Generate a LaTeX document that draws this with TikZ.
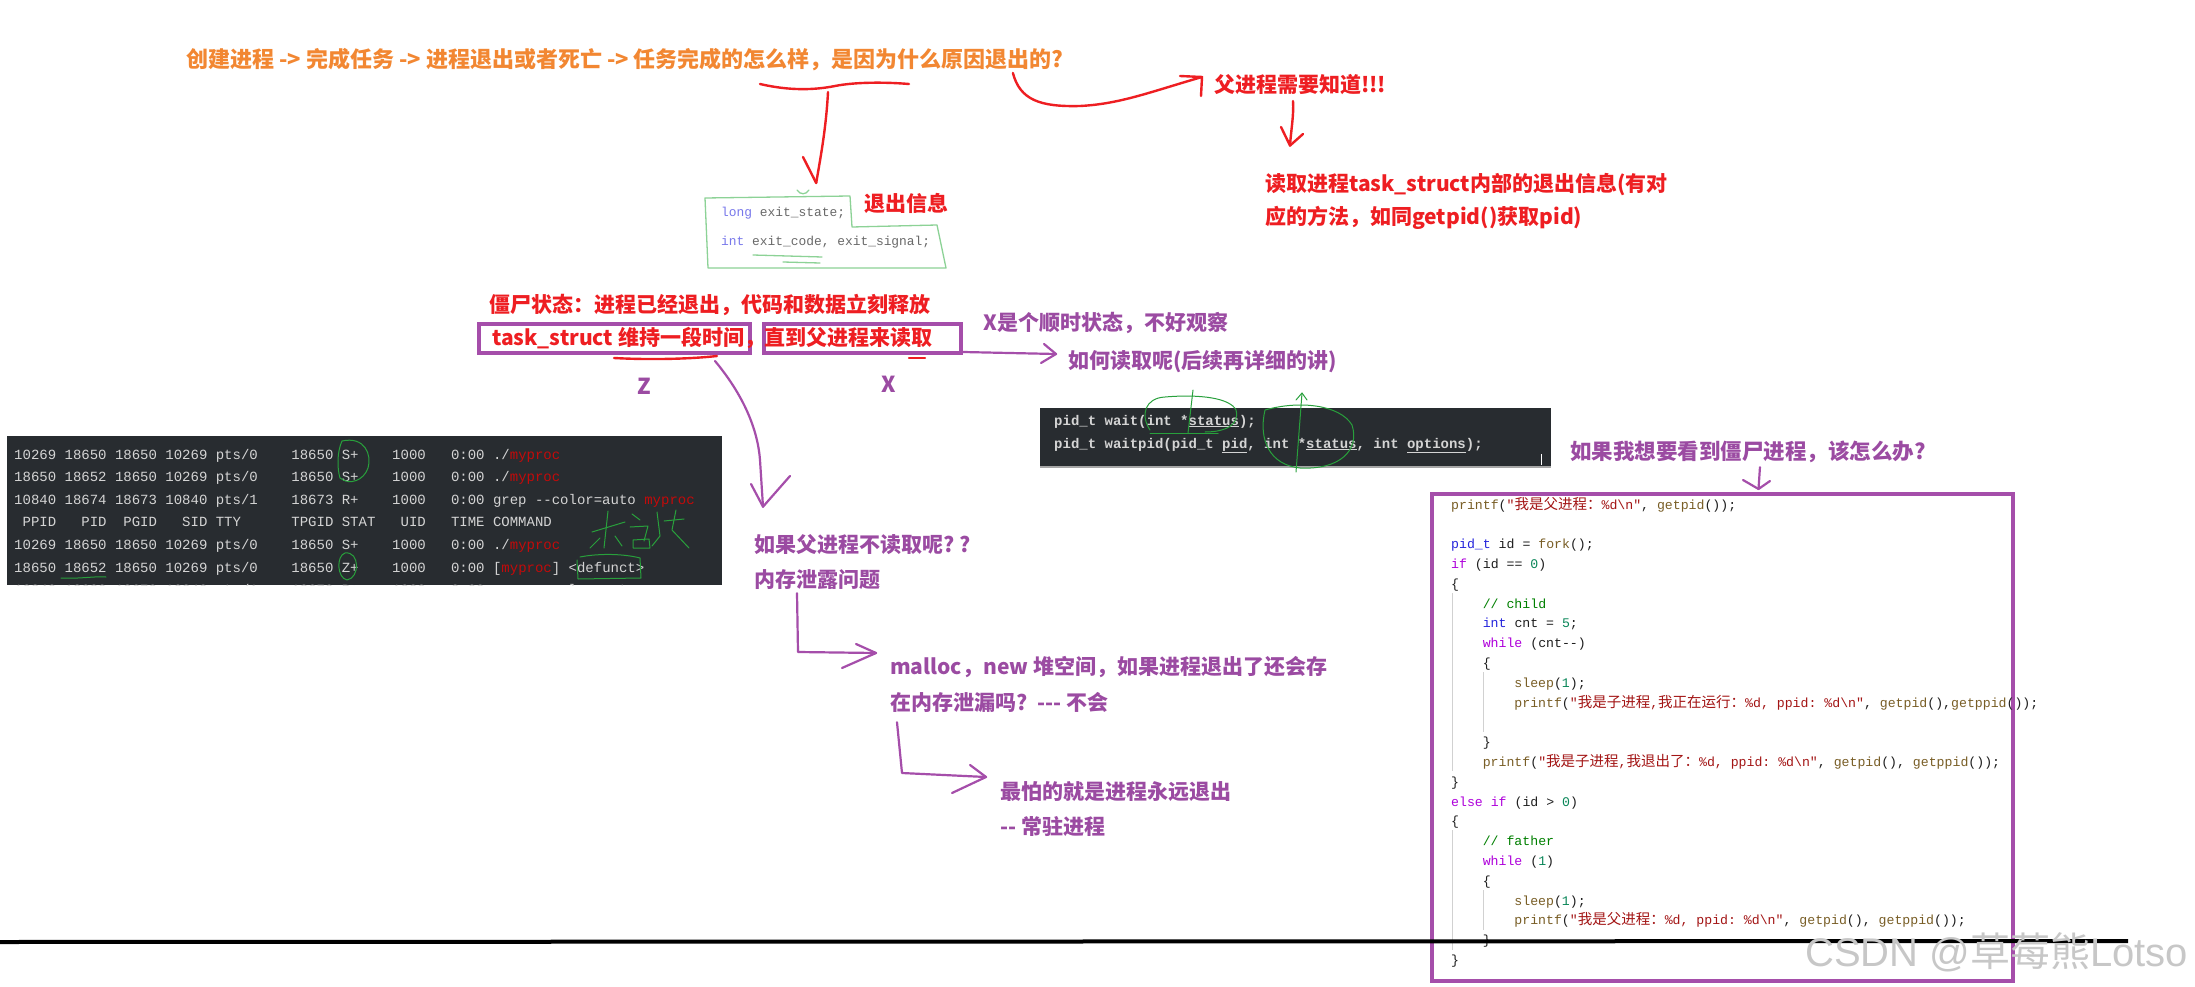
\documentclass[tikz,border=0pt]{standalone}
\usepackage{fontspec}
\setmainfont{Noto Sans CJK SC}
\setmonofont{Liberation Mono}
\newfontfamily\zhfont{Noto Sans CJK SC}
\newfontfamily\wmfont{Liberation Sans}
\usetikzlibrary{arrows.meta,calc}
\frenchspacing
\definecolor{tred}{RGB}{238,30,34}
\definecolor{torange}{RGB}{242,135,50}
\definecolor{tpurple}{RGB}{155,75,162}
\definecolor{bpurple}{RGB}{165,78,170}
\definecolor{hgreen}{RGB}{40,160,60}
\definecolor{lgreen}{RGB}{140,210,150}
\definecolor{termbg}{RGB}{40,44,48}
\definecolor{termfg}{RGB}{212,212,212}
\definecolor{termred}{RGB}{195,10,10}
\definecolor{cdfn}{RGB}{121,94,38}
\definecolor{cdst}{RGB}{163,21,21}
\definecolor{cdkw}{RGB}{175,0,219}
\definecolor{cdty}{RGB}{38,38,220}
\definecolor{cdnu}{RGB}{9,134,88}
\definecolor{cdcm}{RGB}{0,128,0}
\definecolor{cdid}{RGB}{31,31,31}
\definecolor{exkw}{RGB}{120,120,235}
\definecolor{exid}{RGB}{105,105,105}
\newcommand\cFn[1]{\textcolor{cdfn}{#1}}
\newcommand\cSt[1]{\textcolor{cdst}{#1}}
\newcommand\cKw[1]{\textcolor{cdkw}{#1}}
\newcommand\cTy[1]{\textcolor{cdty}{#1}}
\newcommand\cNu[1]{\textcolor{cdnu}{#1}}
\newcommand\cCm[1]{\textcolor{cdcm}{#1}}
\newcommand\zh[1]{{\zhfont\fontsize{14.5}{16}\selectfont #1}}
\newcommand\myp{\textcolor{termred}{myproc}}
\begin{document}
\begin{tikzpicture}[x=1pt,y=-1pt,
  redtxt/.style={anchor=west,inner sep=0,text=tred,font=\bfseries\fontsize{21}{25}\selectfont},
  purtxt/.style={anchor=west,inner sep=0,text=tpurple,font=\bfseries\fontsize{21}{25}\selectfont},
  redhand/.style={draw=tred,line width=2.4pt,line cap=round,line join=round},
  purhand/.style={draw=bpurple,line width=2.2pt,line cap=round,line join=round},
  greenhand/.style={draw=hgreen,line width=1pt,line cap=round,line join=round},
  lgreenhand/.style={draw=lgreen,line width=1.3pt,line cap=round,line join=round},
  purbox/.style={draw=bpurple,line width=4pt,inner sep=0,anchor=north west},
  termline/.style={anchor=base west,inner sep=0,text=termfg,font=\ttfamily\fontsize{14}{16}\selectfont},
  waitline/.style={anchor=base west,inner sep=0,text=termfg,font=\ttfamily\bfseries\fontsize{14}{16}\selectfont},
  codeline/.style={anchor=base west,inner sep=0,text=cdid,font=\ttfamily\fontsize{13.2}{15}\selectfont},
  exline/.style={anchor=base west,inner sep=0,text=exid,font=\ttfamily\fontsize{12.9}{15}\selectfont},
  guide/.style={draw=black!18,line width=0.8pt}
]
\fill[white] (0,0) rectangle (2195,987);
\useasboundingbox (0,0) rectangle (2195,987);

% ---------- title ----------
\node[anchor=west,inner sep=0,text=torange,font=\bfseries\fontsize{22}{26}\selectfont] (title) at (186,60)
  {创建进程 -> 完成任务 -> 进程退出或者死亡 -> 任务完成的怎么样，是因为什么原因退出的?};

% ---------- exit info box ----------
\node[inner sep=0,anchor=north west,minimum width=240,minimum height=72] (exitbox) at (706,197) {};
\draw[lgreenhand] (705,198) -- (850,196) -- (852,227) -- (937,225) -- (946,268) -- (708,268) -- cycle;
\draw[lgreenhand] (797,190) .. controls (800,195) and (806,195) .. (809,190);
\draw[lgreenhand] (753,255) -- (822,257);
\draw[lgreenhand] (783,262) -- (820,263);
\node[exline] (ex1) at (721,217) {\textcolor{exkw}{long} exit\_state;};
\node[exline] (ex2) at (721,245) {\textcolor{exkw}{int} exit\_code, exit\_signal;};
\node[redtxt] (exinfo) at (864,203) {退出信息};

% red squiggle and arrow into exit box
\coordinate (sqL) at (760,84);
\coordinate (sqR) at (909,84);
\draw[redhand] (sqL) .. controls (790,91) and (815,90) .. (835,86) .. controls (855,82) and (885,82) .. (sqR);
\draw[redhand] (828,92) .. controls (826,130) and (820,160) .. ($(exitbox.north)+(-10,-14)$);
\draw[redhand] (803,157) -- ($(exitbox.north)+(-10,-14)$);

% ---------- parent needs to know ----------
\node[redtxt] (parent) at (1214,85) {父进程需要知道!!!};
\draw[redhand] ($(title.east)+(-51,13)$) .. controls (1020,100) and (1040,107) .. (1080,106)
   .. controls (1120,104) and (1150,92) .. ($(parent.west)+(-12,-8)$);
\draw[redhand] ($(parent.west)+(-34,-9)$) -- ($(parent.west)+(-12,-8)$) -- ($(parent.west)+(-13,11)$);

\node[redtxt] (read1) at (1265,185) {读取进程task\_struct内部的退出信息(有对};
\node[redtxt] (read2) at (1265,218) {应的方法，如同getpid()获取pid)};
\draw[redhand] (1293,101) .. controls (1294,115) and (1291,130) .. ($(read1.north west)+(25,-28)$);
\draw[redhand] (1281,127) -- ($(read1.north west)+(25,-28)$) -- (1303,134);

% ---------- zombie state ----------
\node[redtxt] (zomb) at (489,305) {僵尸状态：进程已经退出，代码和数据立刻释放};
\node[purbox,minimum width=271,minimum height=29] (zbox) at (477,322) {};
\node[purbox,minimum width=197,minimum height=29] (xbox) at (762,322) {};
\node[redtxt] (zt1) at (492,338) {task\_struct 维持一段时间，};
\node[redtxt] (zt2) at (764,338) {直到父进程来读取};
\draw[redhand] (614,358) .. controls (650,360) and (690,359) .. (717,356);
\draw[redhand] (909,358) -- (925,358);
\node[purtxt,font=\bfseries\fontsize{22}{26}\selectfont] (zl) at (637,386) {Z};
\node[purtxt,font=\bfseries\fontsize{22}{26}\selectfont] (xl) at (881,384) {X};

\node[purtxt] (xst) at (983,323) {X是个顺时状态，不好观察};
\node[purtxt] (howr) at (1068,362) {如何读取呢(后续再详细的讲)};
\draw[purhand] ($(xbox.south east)+(0,-3)$) -- ($(howr.west)+(-12,-8)$);
\draw[purhand] ($(howr.west)+(-24,-18)$) -- ($(howr.west)+(-12,-8)$) -- ($(howr.west)+(-27,1)$);

% ---------- terminal screenshot ----------
\begin{scope}
\clip (7,436) rectangle (722,585);
\fill[termbg] (7,436) rectangle (722,585);
\node[termline] (r1) at (14,459) {10269~18650~18650~10269~pts/0~~~~18650~S+~~~~1000~~~0:00~./\myp};
\node[termline] (r2) at (14,481.6) {18650~18652~18650~10269~pts/0~~~~18650~S+~~~~1000~~~0:00~./\myp};
\node[termline] (r3) at (14,504.2) {10840~18674~18673~10840~pts/1~~~~18673~R+~~~~1000~~~0:00~grep~-{}-color=auto~\myp};
\node[termline] (r4) at (14,526.8) {~PPID~~~PID~~PGID~~~SID~TTY~~~~~~TPGID~STAT~~~UID~~~TIME~COMMAND};
\node[termline] (r5) at (14,549.4) {10269~18650~18650~10269~pts/0~~~~18650~S+~~~~1000~~~0:00~./\myp};
\node[termline] (r6) at (14,572) {18650~18652~18650~10269~pts/0~~~~18650~Z+~~~~1000~~~0:00~[\myp]~<defunct>};
\node[termline] (r7) at (14,594.6) {10840~18680~18679~10840~pts/1~~~~18679~R+~~~~1000~~~0:00~grep~-{}-color=auto~\myp};
\end{scope}
\draw[greenhand] (342,441) .. controls (365,436) and (372,455) .. (368,468) .. controls (364,480) and (350,486) .. (340,478) .. controls (337,468) and (337,452) .. (342,441);
\draw[greenhand] (345,553) .. controls (360,551) and (360,578) .. (347,580) .. controls (337,578) and (336,556) .. (345,553);
\draw[greenhand] (61,578) .. controls (80,579) and (95,576) .. (106,577);
\draw[greenhand] (580,557) .. controls (600,553) and (625,554) .. (640,558) -- (641,578) -- (578,579) -- (577,560);
\draw[greenhand] (592,532) -- (625,522);
\draw[greenhand] (608,511) -- (604,548);
\draw[greenhand] (600,538) -- (590,548);
\draw[greenhand] (615,536) -- (622,546);
\draw[greenhand] (632,514) -- (640,520);
\draw[greenhand] (630,527) -- (648,526) -- (644,541);
\draw[greenhand] (633,540) -- (649,539) -- (650,548) -- (633,548) -- cycle;
\draw[greenhand] (657,512) -- (660,536) -- (652,546);
\draw[greenhand] (664,521) -- (684,519);
\draw[greenhand] (676,510) -- (672,530) -- (689,548);

% ---------- wait panel ----------
\fill[termbg] (1040,408) rectangle (1551,467);
\draw[black!35,line width=1.5pt] (1040,467) -- (1551,467);
\draw[white,line width=1pt] (1541,454) -- (1541,465);
\node[waitline] (w1) at (1054,425) {pid\_t wait(int *\underline{status});};
\node[waitline] (w2) at (1054,448) {pid\_t waitpid(pid\_t \underline{pid}, int *\underline{status}, int \underline{options});};
\draw[greenhand] (1150,430) .. controls (1140,415) and (1145,398) .. (1165,397) .. controls (1200,394) and (1230,398) .. (1236,410) .. controls (1240,425) and (1225,432) .. (1205,432);
\draw[greenhand] (1150,433) -- (1218,433);
\draw[greenhand] (1193,390) -- (1188,433);
\draw[greenhand] (1265,410) .. controls (1300,400) and (1340,405) .. (1352,425) .. controls (1360,450) and (1340,470) .. (1300,468) .. controls (1270,465) and (1258,440) .. (1265,410);
\draw[greenhand] (1302,393) -- (1296,472);
\draw[greenhand] (1296,400) -- (1302,393) -- (1307,400);

% ---------- if parent does not read ----------
\node[purtxt] (ifnot) at (754,545) {如果父进程不读取呢? ?};
\node[purtxt] (leak) at (754,580) {内存泄露问题};
\draw[purhand] ($(zbox.south east)+(-37,6)$) .. controls (735,385) and (757,420) .. (760,460) -- ($(ifnot.north west)+(9,-28)$);
\draw[purhand] (751,484) -- ($(ifnot.north west)+(9,-28)$) -- (790,476);

\node[purtxt] (malloc) at (890,667) {malloc，new 堆空间，如果进程退出了还会存};
\node[purtxt] (malloc2) at (890,702) {在内存泄漏吗?~~-{}-{}- 不会};
\draw[purhand] ($(leak.south west)+(43,3)$) -- (798,652) -- ($(malloc.west)+(-14,-14)$);
\draw[purhand] (856,644) -- ($(malloc.west)+(-14,-14)$) -- (842,668);

\node[purtxt] (fear) at (1000,792) {最怕的就是进程永远退出};
\node[purtxt] (fear2) at (1000,827) {-{}- 常驻进程};
\draw[purhand] ($(malloc2.south west)+(7,10)$) -- (902,773) -- ($(fear.west)+(-14,-15)$);
\draw[purhand] (970,765) -- ($(fear.west)+(-14,-15)$) -- (952,793);

% ---------- zombie demo code ----------
\node[purtxt,font=\bfseries\fontsize{21.5}{25}\selectfont] (q2) at (1570,452) {如果我想要看到僵尸进程，该怎么办?};
\node[purbox,minimum width=581,minimum height=487] (codebox) at (1430,492) {};
\draw[purhand] ($(q2.south)+(12,4)$) -- ($(codebox.north)+(36,-3)$);
\draw[purhand] (1743,480) -- ($(codebox.north)+(36,-3)$) -- (1770,481);

\draw[guide] (1452,593) -- (1452,771);
\draw[guide] (1483,672) -- (1483,732);
\draw[guide] (1452,830) -- (1452,950);
\draw[guide] (1483,890) -- (1483,930);

\node[codeline] (c0) at (1451,509) {\cFn{printf}(\cSt{"\zh{我是父进程：}\%d\textbackslash n"}, \cFn{getpid}());};
\node[codeline] (c2) at (1451,548.6) {\cTy{pid\_t} id = \cFn{fork}();};
\node[codeline] (c3) at (1451,568.4) {\cKw{if} (id == \cNu{0})};
\node[codeline] (c4) at (1451,588.2) {\{};
\node[codeline] (c5) at (1482.6,608) {\cCm{// child}};
\node[codeline] (c6) at (1482.6,627.8) {\cTy{int} cnt = \cNu{5};};
\node[codeline] (c7) at (1482.6,647.6) {\cKw{while} (cnt-{}-)};
\node[codeline] (c8) at (1482.6,667.4) {\{};
\node[codeline] (c9) at (1514.2,687.2) {\cFn{sleep}(\cNu{1});};
\node[codeline] (c10) at (1514.2,707) {\cFn{printf}(\cSt{"\zh{我是子进程},\zh{我正在运行：}\%d, ppid: \%d\textbackslash n"}, \cFn{getpid}(),\cFn{getppid}());};
\node[codeline] (c12) at (1482.6,746.6) {\}};
\node[codeline] (c13) at (1482.6,766.4) {\cFn{printf}(\cSt{"\zh{我是子进程},\zh{我退出了：}\%d, ppid: \%d\textbackslash n"}, \cFn{getpid}(), \cFn{getppid}());};
\node[codeline] (c14) at (1451,786.2) {\}};
\node[codeline] (c15) at (1451,806) {\cKw{else} \cKw{if} (id > \cNu{0})};
\node[codeline] (c16) at (1451,825.8) {\{};
\node[codeline] (c17) at (1482.6,845.6) {\cCm{// father}};
\node[codeline] (c18) at (1482.6,865.4) {\cKw{while} (\cNu{1})};
\node[codeline] (c19) at (1482.6,885.2) {\{};
\node[codeline] (c20) at (1514.2,905) {\cFn{sleep}(\cNu{1});};
\node[codeline] (c21) at (1514.2,924.8) {\cFn{printf}(\cSt{"\zh{我是父进程：}\%d, ppid: \%d\textbackslash n"}, \cFn{getpid}(), \cFn{getppid}());};
\node[codeline] (c22) at (1482.6,944.6) {\}};
\node[codeline] (c23) at (1451,964.4) {\}};

% ---------- bottom rule and watermark ----------
\draw[line width=4pt] (0,942) -- (2128,941);
\node[anchor=west,inner sep=0,text=black!22,font=\wmfont\fontsize{40}{44}\selectfont] (wm) at (1805,952) {CSDN @{\zhfont 草莓熊}Lotso};
\end{tikzpicture}
\end{document}
